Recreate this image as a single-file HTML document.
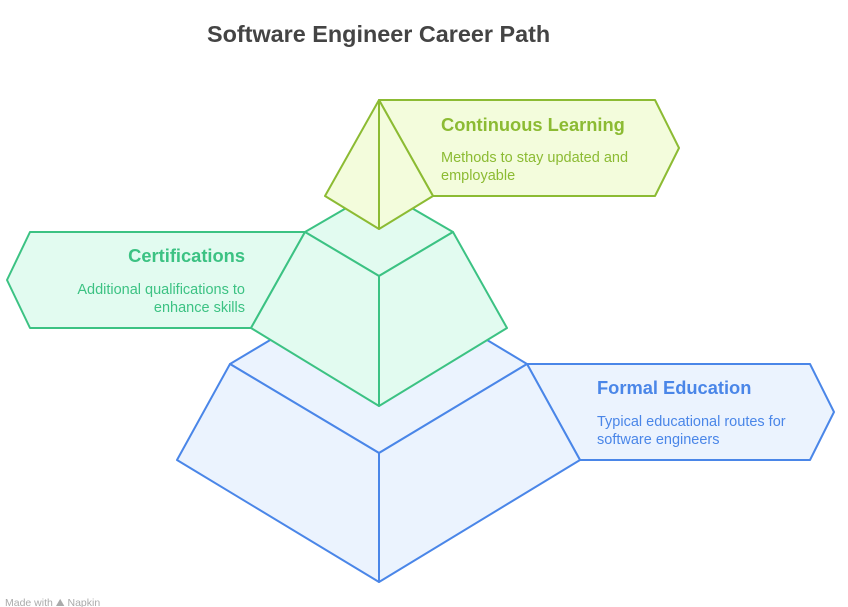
<!DOCTYPE html>
<html><head><meta charset="utf-8"><style>
html,body{margin:0;padding:0;background:#fff;}
svg{display:block;font-family:"Liberation Sans",sans-serif;}
</style></head><body>
<svg width="848" height="607" viewBox="0 0 848 607" xmlns="http://www.w3.org/2000/svg">
<text x="207" y="42" font-size="23.4" font-weight="bold" fill="#444">Software Engineer Career Path</text>

<!-- Bottom tier -->
<g stroke="#4a86e8" stroke-width="2" fill="#ebf3fe" stroke-linejoin="round">
<polygon points="527,364 810,364 834,412 810,460 580,460"/>
<polygon points="230,364 379,275 527,364 379,453"/>
<polygon points="230,364 379,453 379,582 177,460"/>
<polygon points="527,364 580,460 379,582 379,453"/>
</g>
<text x="597" y="394" font-size="18.3" font-weight="bold" fill="#4a86e8">Formal Education</text>
<text x="597" y="426" font-size="14.5" fill="#4a86e8">Typical educational routes for</text>
<text x="597" y="444" font-size="14.5" fill="#4a86e8">software engineers</text>

<!-- Middle tier -->
<g stroke="#3cc283" stroke-width="2" fill="#e2fbf0" stroke-linejoin="round">
<polygon points="305,232 30,232 7,280 30,328 251,328"/>
<polygon points="305,232 379,189 453,232 379,276"/>
<polygon points="305,232 379,276 379,406 251,328"/>
<polygon points="453,232 507,328 379,406 379,276"/>
</g>
<text x="245" y="262" font-size="18.3" font-weight="bold" fill="#3cc283" text-anchor="end">Certifications</text>
<text x="245" y="294" font-size="14.5" fill="#3cc283" text-anchor="end">Additional qualifications to</text>
<text x="245" y="312" font-size="14.5" fill="#3cc283" text-anchor="end">enhance skills</text>

<!-- Top -->
<g stroke="#8cbb33" stroke-width="2" fill="#f3fcdc" stroke-linejoin="round">
<polygon points="379,100 655,100 679,148 655,196 433,196"/>
<polygon points="379,100 379,229 325,196"/>
<polygon points="379,100 433,196 379,229"/>
</g>
<text x="441" y="131" font-size="18.3" font-weight="bold" fill="#8cbb33">Continuous Learning</text>
<text x="441" y="162" font-size="14.5" fill="#8cbb33">Methods to stay updated and</text>
<text x="441" y="180" font-size="14.5" fill="#8cbb33">employable</text>

<text x="5" y="606" font-size="10.5" fill="#aaa">Made with ⛰ Napkin</text>
</svg>
</body></html>
